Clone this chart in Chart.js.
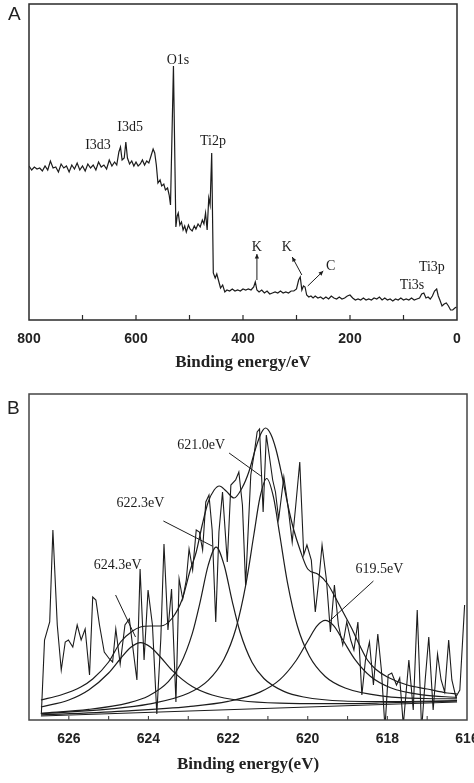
<!DOCTYPE html>
<html><head><meta charset="utf-8">
<script src="https://cdn.jsdelivr.net/npm/chart.js@4/dist/chart.umd.min.js"></script>
<style>
html,body{margin:0;padding:0;background:#fff;overflow:hidden;width:474px;height:783px;position:relative;}
#ca{position:absolute;left:0;top:0;}
#cb{position:absolute;left:0;top:380px;}
.lbl{position:absolute;font-family:"Liberation Sans",Arial,sans-serif;font-size:19px;color:#222;line-height:1;}
</style></head><body>
<canvas id="ca" width="474" height="380"></canvas>
<canvas id="cb" width="500" height="403"></canvas>
<div class="lbl" style="left:8px;top:4px">A</div>
<div class="lbl" style="left:7px;top:398px">B</div>
<script>
// ---------- Panel A: survey spectrum ----------
const surveyEnergy = [800,795,790,785,780,775,770,765,760,755,750,745,740,735,730,725,720,715,710,705,
700,695,690,685,680,675,670,665,660,655,650,645,640,636,632,629,626,622,619,616,
612,608,604,600,596,592,588,584,580,576,572,568,565,562,559,555,552,548,545,541,
538,535.5,530,525.5,523,521,518,515,512,509,506,502,499,495,491,488,484,480,476,473,
470,467,464,461.5,458.5,455.5,452,449,446,442,438,434,430,425,420,415,410,405,400,395,
390,385,380,377,374,370,365,360,355,350,345,340,335,330,325,320,315,310,305,300,
296,293,290,287,284,281,277,273,269,265,260,255,250,245,240,235,230,225,220,215,
210,205,200,195,190,185,180,175,170,165,160,155,150,145,140,135,130,125,120,115,
110,105,100,95,90,85,80,75,70,66,62,58,54,50,46,42,38,35,32,28,24,20,16,12,8,4,1];
const surveyIntensity = [154,150,153,151,152,149,154,150,159,152,153,148,156,152,154,148,155,151,157,150,
154,149,156,152,155,150,158,153,155,151,160,154,158,155,168,173,160,162,178,162,
156,159,154,158,154,156,160,155,159,157,164,171,167,155,137,140,134,136,130,132,
125,115,254,93,104,107,95,98,90,94,88,95,91,89,94,91,96,93,100,96,
107,90,122,115,167,47,42,46,40,32,35,28,30,29,31,29,30,29,31,30,
31,30,33,38,30,28,30,27,29,26,27,28,27,29,27,28,27,29,29,31,
40,43,30,34,33,25,23,24,22,24,22,23,21,23,21,24,22,21,23,21,
22,24,25,22,20,21,20,22,20,21,20,22,21,23,20,22,20,21,19,21,
20,22,20,21,20,22,20,21,22,26,27,22,23,21,24,29,31,24,20,14,16,17,14,10,10,12,13];
const surveyTickLabels = [800,600,400,200,0];
const surveyPeakNames = ['O1s','I3d5','I3d3','Ti2p','K','K','C','Ti3s','Ti3p'];
const surveyPeakEnergy = [521.5,611,671,456,374,318,236,84,47];
const surveyPeakLevel = [260,193,175,179,73,73,54,35,53];

// ---------- Panel B: I3d5 high resolution ----------
const hrEnergy = [626.69,626.61,626.48,626.40,626.29,626.19,626.09,626.01,625.90,625.79,
625.69,625.59,625.48,625.40,625.32,625.23,625.11,624.98,624.90,624.82,
624.71,624.59,624.48,624.40,624.29,624.21,624.11,624.01,623.90,623.79,
623.69,623.61,623.51,623.42,623.31,623.23,623.14,623.05,622.98,622.89,
622.80,622.72,622.64,622.56,622.48,622.40,622.31,622.23,622.14,622.02,
621.93,621.81,621.73,621.64,621.56,621.43,621.35,621.27,621.21,621.12,
621.04,620.95,620.88,620.81,620.73,620.60,620.50,620.39,620.30,620.20,
620.10,620.02,619.91,619.81,619.72,619.64,619.53,619.43,619.33,619.23,
619.12,619.02,618.92,618.84,618.74,618.64,618.55,618.45,618.35,618.24,
618.15,618.06,617.98,617.89,617.77,617.69,617.60,617.46,617.35,617.25,
617.14,617.05,616.96,616.85,616.74,616.65,616.56,616.46,616.38,616.28,
616.18,616.06];
const hrCounts = [6,80,98,190,95,50,78,80,73,95,
80,91,45,123,120,95,68,61,58,91,
56,95,101,75,40,151,60,130,95,6,
81,176,90,131,18,141,121,140,171,150,
190,188,170,218,225,190,98,188,228,158,
235,240,248,215,135,245,265,288,291,208,
285,260,240,228,201,243,215,178,215,258,
165,175,160,108,140,175,140,88,135,95,
75,98,80,70,98,25,60,78,35,86,
50,-8,45,47,35,42,-5,60,10,110,
-10,40,83,10,66,40,28,80,40,23,
30,115];
const envelopeEnergy = [626.7,626.2,625.7,625.4,625.0,624.7,624.4,624.2,623.95,623.7,623.4,623.15,622.95,622.8,622.65,622.5,622.35,622.22,622.05,621.85,621.65,621.48,621.32,621.18,621.06,620.93,620.8,620.65,620.5,620.35,620.2,620.0,619.75,619.5,619.3,619.1,618.9,618.7,618.5,618.3,618.0,617.5,617.0,616.5,616.25];
const envelopeCounts = [20,25,33,41,58,78,89,93,94,94,102,121,150,168,195,218,230,234,229,222,232,248,270,286,292,286,271,245,215,190,171,151,146,136,122,107,92,75,60,51,43,35,31,27,26];
const peak624Energy = [626.7,626.0,625.5,625.0,624.7,624.45,624.2,623.95,623.7,623.4,622.9,622.4,621.7,620.7,619.5,618.2,616.25];
const peak624Counts = [13,20,30,47,61.5,72.5,77.4,73,63,49.4,33.5,25,19.5,16.8,16.3,17,19];
const peak622Energy = [626.7,625.5,624.5,624.0,623.5,623.2,622.9,622.7,622.5,622.3,622.1,621.9,621.7,621.4,621.1,620.6,620.1,619.1,617.9,616.25];
const peak622Counts = [6.7,10.6,17.2,24,38.3,55.4,86.4,118.4,154.6,172.9,155,119.4,88,57.8,41.5,28.6,23,19,18.4,19.4];
const peak621Energy = [626.7,625.0,624.0,623.0,622.5,622.1,621.8,621.55,621.35,621.2,621.03,620.86,620.71,620.51,620.26,619.96,619.56,619.06,618.06,617.06,616.25];
const peak621Counts = [6.3,10.9,15.8,26.7,39.6,61,92,136.4,186,222.5,241.5,222.8,187,137.7,94,64,43.5,32,23.7,21.5,21.2];
const peak619Energy = [626.7,624.5,623.0,622.0,621.2,620.7,620.3,620.0,619.76,619.56,619.36,619.12,618.82,618.42,617.92,617.12,616.25];
const peak619Counts = [5.1,9.2,13.4,18.6,27.9,40.4,59,79,94.3,99.6,94.8,80.2,60.9,43.5,32.3,25.1,22.6];
const baselineEnergy = [626.7,616.25];
const baselineCounts = [4,18];
const hrTickLabels = [626,624,622,620,618,616];
const hrPeakNames = ['621.0eV','622.3eV','624.3eV','619.5eV'];
const hrLabelEnergy = [622.675,624.2,624.775,618.2];
const hrLabelLevel = [275,217,155,151];
const hrLeaderFrom = [[621.975,267],[623.625,199],[624.825,125],[618.35,139]];
const hrLeaderTo = [[621.175,244],[622.4,174],[624.325,83],[619.45,99]];

// ---------- helpers ----------
const pts = (xs, ys) => xs.map((x, i) => ({x, y: ys[i]}));
const INK = '#1c1c1c';

const framePlugin = {
  id: 'frameTicks',
  afterDatasetsDraw(chart, args, o) {
    const {ctx, chartArea: a, scales: {x}} = chart;
    ctx.save();
    ctx.strokeStyle = o.color; ctx.lineWidth = o.width;
    ctx.strokeRect(a.left, a.top, a.right - a.left, a.bottom - a.top);
    ctx.lineWidth = o.tickWidth;
    x.ticks.forEach(t => {
      const px = x.getPixelForValue(t.value);
      if (px > a.left + 2 && px < a.right - 2) {
        ctx.beginPath(); ctx.moveTo(px, a.bottom); ctx.lineTo(px, a.bottom - o.tickLen); ctx.stroke();
      }
    });
    ctx.restore();
  }
};
const notesPlugin = {
  id: 'notes',
  afterDatasetsDraw(chart, args, o) {
    const {ctx, scales: {x, y}} = chart;
    ctx.save();
    ctx.font = o.font; ctx.fillStyle = INK; ctx.strokeStyle = INK;
    ctx.textAlign = 'center'; ctx.textBaseline = 'middle';
    o.names.forEach((n, i) => ctx.fillText(n, x.getPixelForValue(o.nx[i]), y.getPixelForValue(o.ny[i])));
    ctx.lineWidth = 1;
    o.from.forEach((f, i) => {
      const x0 = x.getPixelForValue(f[0]), y0 = y.getPixelForValue(f[1]);
      const x1 = x.getPixelForValue(o.to[i][0]), y1 = y.getPixelForValue(o.to[i][1]);
      ctx.beginPath(); ctx.moveTo(x0, y0); ctx.lineTo(x1, y1); ctx.stroke();
      if (o.arrows) {
        const ang = Math.atan2(y1 - y0, x1 - x0), L = 5, W = 0.45;
        ctx.beginPath(); ctx.moveTo(x1, y1);
        ctx.lineTo(x1 - L * Math.cos(ang - W), y1 - L * Math.sin(ang - W));
        ctx.lineTo(x1 - L * Math.cos(ang + W), y1 - L * Math.sin(ang + W));
        ctx.closePath(); ctx.fill();
      }
    });
    ctx.restore();
  }
};

const tickFont = {family: '"Liberation Sans", Arial, sans-serif', weight: 'bold', size: 14};
const titleFont = {family: '"Liberation Serif", "Times New Roman", serif', weight: 'bold', size: 17};

// ---------- Chart A ----------
new Chart(document.getElementById('ca'), {
  type: 'line',
  data: {datasets: [{data: pts(surveyEnergy, surveyIntensity), borderColor: INK, borderWidth: 1.2, pointRadius: 0, tension: 0}]},
  options: {
    responsive: false, animation: false, devicePixelRatio: 1,
    layout: {padding: {left: 29, right: 17, top: 4, bottom: 0}},
    plugins: {
      legend: {display: false}, tooltip: {enabled: false},
      frameTicks: {color: '#2a2a2a', width: 1.5, tickWidth: 1.2, tickLen: 5},
      notes: {font: '14px "Liberation Serif", "Times New Roman", serif', names: surveyPeakNames, nx: surveyPeakEnergy, ny: surveyPeakLevel,
        from: [[374,40],[290,45],[279,34]], to: [[374,66],[308,63],[250,49]], arrows: true}
    },
    scales: {
      x: {type: 'linear', reverse: true, min: 0, max: 800,
        afterFit: s => { s.height = 60; },
        grid: {display: false}, border: {display: false},
        ticks: {stepSize: 100, autoSkip: false, maxRotation: 0, padding: 3, color: '#222', font: tickFont,
          callback: v => surveyTickLabels.includes(v) ? String(v) : ''},
        title: {display: true, text: 'Binding energy/eV', color: '#222', font: titleFont, padding: {top: 0, bottom: 7}}},
      y: {display: false, min: 0, max: 316}
    }
  },
  plugins: [framePlugin, notesPlugin]
});

// ---------- Chart B ----------
const fitStyle = {borderColor: INK, borderWidth: 1.2, pointRadius: 0, cubicInterpolationMode: 'monotone'};
new Chart(document.getElementById('cb'), {
  type: 'line',
  data: {datasets: [
    {data: pts(hrEnergy, hrCounts), borderColor: INK, borderWidth: 1.1, pointRadius: 0, tension: 0},
    Object.assign({data: pts(envelopeEnergy, envelopeCounts)}, fitStyle),
    Object.assign({data: pts(peak624Energy, peak624Counts)}, fitStyle),
    Object.assign({data: pts(peak622Energy, peak622Counts)}, fitStyle),
    Object.assign({data: pts(peak621Energy, peak621Counts)}, fitStyle),
    Object.assign({data: pts(peak619Energy, peak619Counts)}, fitStyle),
    {data: pts(baselineEnergy, baselineCounts), borderColor: INK, borderWidth: 1.2, pointRadius: 0, tension: 0}
  ]},
  options: {
    responsive: false, animation: false, devicePixelRatio: 1,
    layout: {padding: {left: 29, right: 33, top: 14, bottom: 0}},
    plugins: {
      legend: {display: false}, tooltip: {enabled: false},
      frameTicks: {color: '#444', width: 1.5, tickWidth: 1.1, tickLen: 4},
      notes: {font: '14px "Liberation Serif", "Times New Roman", serif', names: hrPeakNames, nx: hrLabelEnergy, ny: hrLabelLevel,
        from: hrLeaderFrom, to: hrLeaderTo, arrows: false}
    },
    scales: {
      x: {type: 'linear', reverse: true, min: 616, max: 627,
        afterFit: s => { s.height = 63; },
        grid: {display: false}, border: {display: false},
        ticks: {stepSize: 1, autoSkip: false, maxRotation: 0, padding: 3, color: '#222', font: tickFont,
          callback: v => hrTickLabels.includes(v) ? String(v) : ''},
        title: {display: true, text: 'Binding energy(eV)', color: '#222', font: titleFont, padding: {top: 0, bottom: 8}}},
      y: {display: false, min: 0, max: 326}
    }
  },
  plugins: [framePlugin, notesPlugin]
});
</script>
</body></html>
